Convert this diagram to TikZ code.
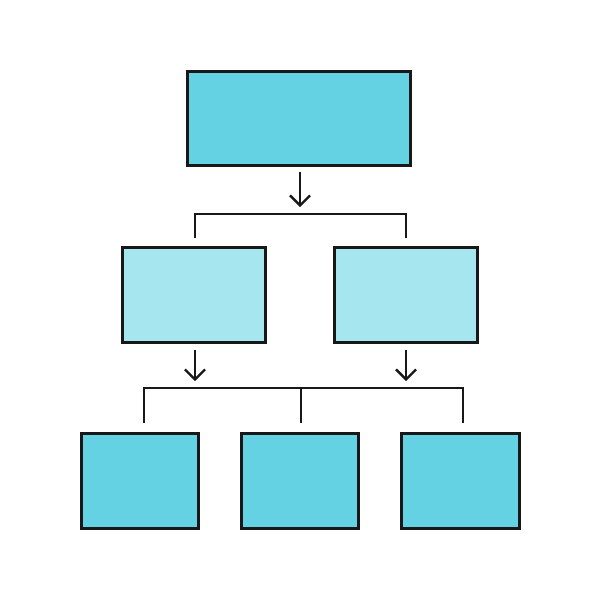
\documentclass[tikz,border=0pt]{standalone}
\usetikzlibrary{arrows.meta}
\definecolor{darkcyan}{HTML}{64D2E2}
\definecolor{lightcyan}{HTML}{A6E6EF}
\definecolor{ink}{HTML}{181818}
\tikzset{
  boxdark/.style={draw=ink, line width=3pt, fill=darkcyan, inner sep=0pt},
  boxlight/.style={draw=ink, line width=3pt, fill=lightcyan, inner sep=0pt},
  flowarrow/.style={draw=ink, line width=2.3pt, -{Straight Barb[length=10pt,width=20pt,line width=2.3pt]}},
  bracketline/.style={draw=ink, line width=2.3pt}
}
\begin{document}
\begin{tikzpicture}[x=1pt,y=-1pt]
\useasboundingbox (0,0) rectangle (600,600);
\node[boxdark, minimum width=223pt, minimum height=94pt] (top) at (298.5,118) {};
\node[boxlight, minimum width=143pt, minimum height=95pt] (ml) at (193.5,294.5) {};
\node[boxlight, minimum width=143pt, minimum height=95pt] (mr) at (405.5,294.5) {};
\node[boxdark, minimum width=117pt, minimum height=95pt] (bl) at (139.5,480.5) {};
\node[boxdark, minimum width=117pt, minimum height=95pt] (bm) at (299.5,480.5) {};
\node[boxdark, minimum width=118pt, minimum height=95pt] (br) at (460,480.5) {};
% arrow 1 and bracket 1
\coordinate (a1s) at (300,172);
\coordinate (a1e) at (300,207);
\draw[flowarrow] (a1s) -- (a1e);
\coordinate (b1l) at (195,238);
\coordinate (b1r) at (406,238);
\draw[bracketline] (b1l) -- (195,214) -- (406,214) -- (b1r);
% arrows 2
\coordinate (a2ls) at (195,350);
\coordinate (a2le) at (195,381);
\coordinate (a2rs) at (406,350);
\coordinate (a2re) at (406,381);
\draw[flowarrow] (a2ls) -- (a2le);
\draw[flowarrow] (a2rs) -- (a2re);
% bracket 2
\coordinate (b2l) at (144,423);
\coordinate (b2m) at (301,423);
\coordinate (b2r) at (463,423);
\draw[bracketline] (b2l) -- (144,388) -- (463,388) -- (b2r);
\draw[bracketline] (301,388) -- (b2m);
\end{tikzpicture}
\end{document}
